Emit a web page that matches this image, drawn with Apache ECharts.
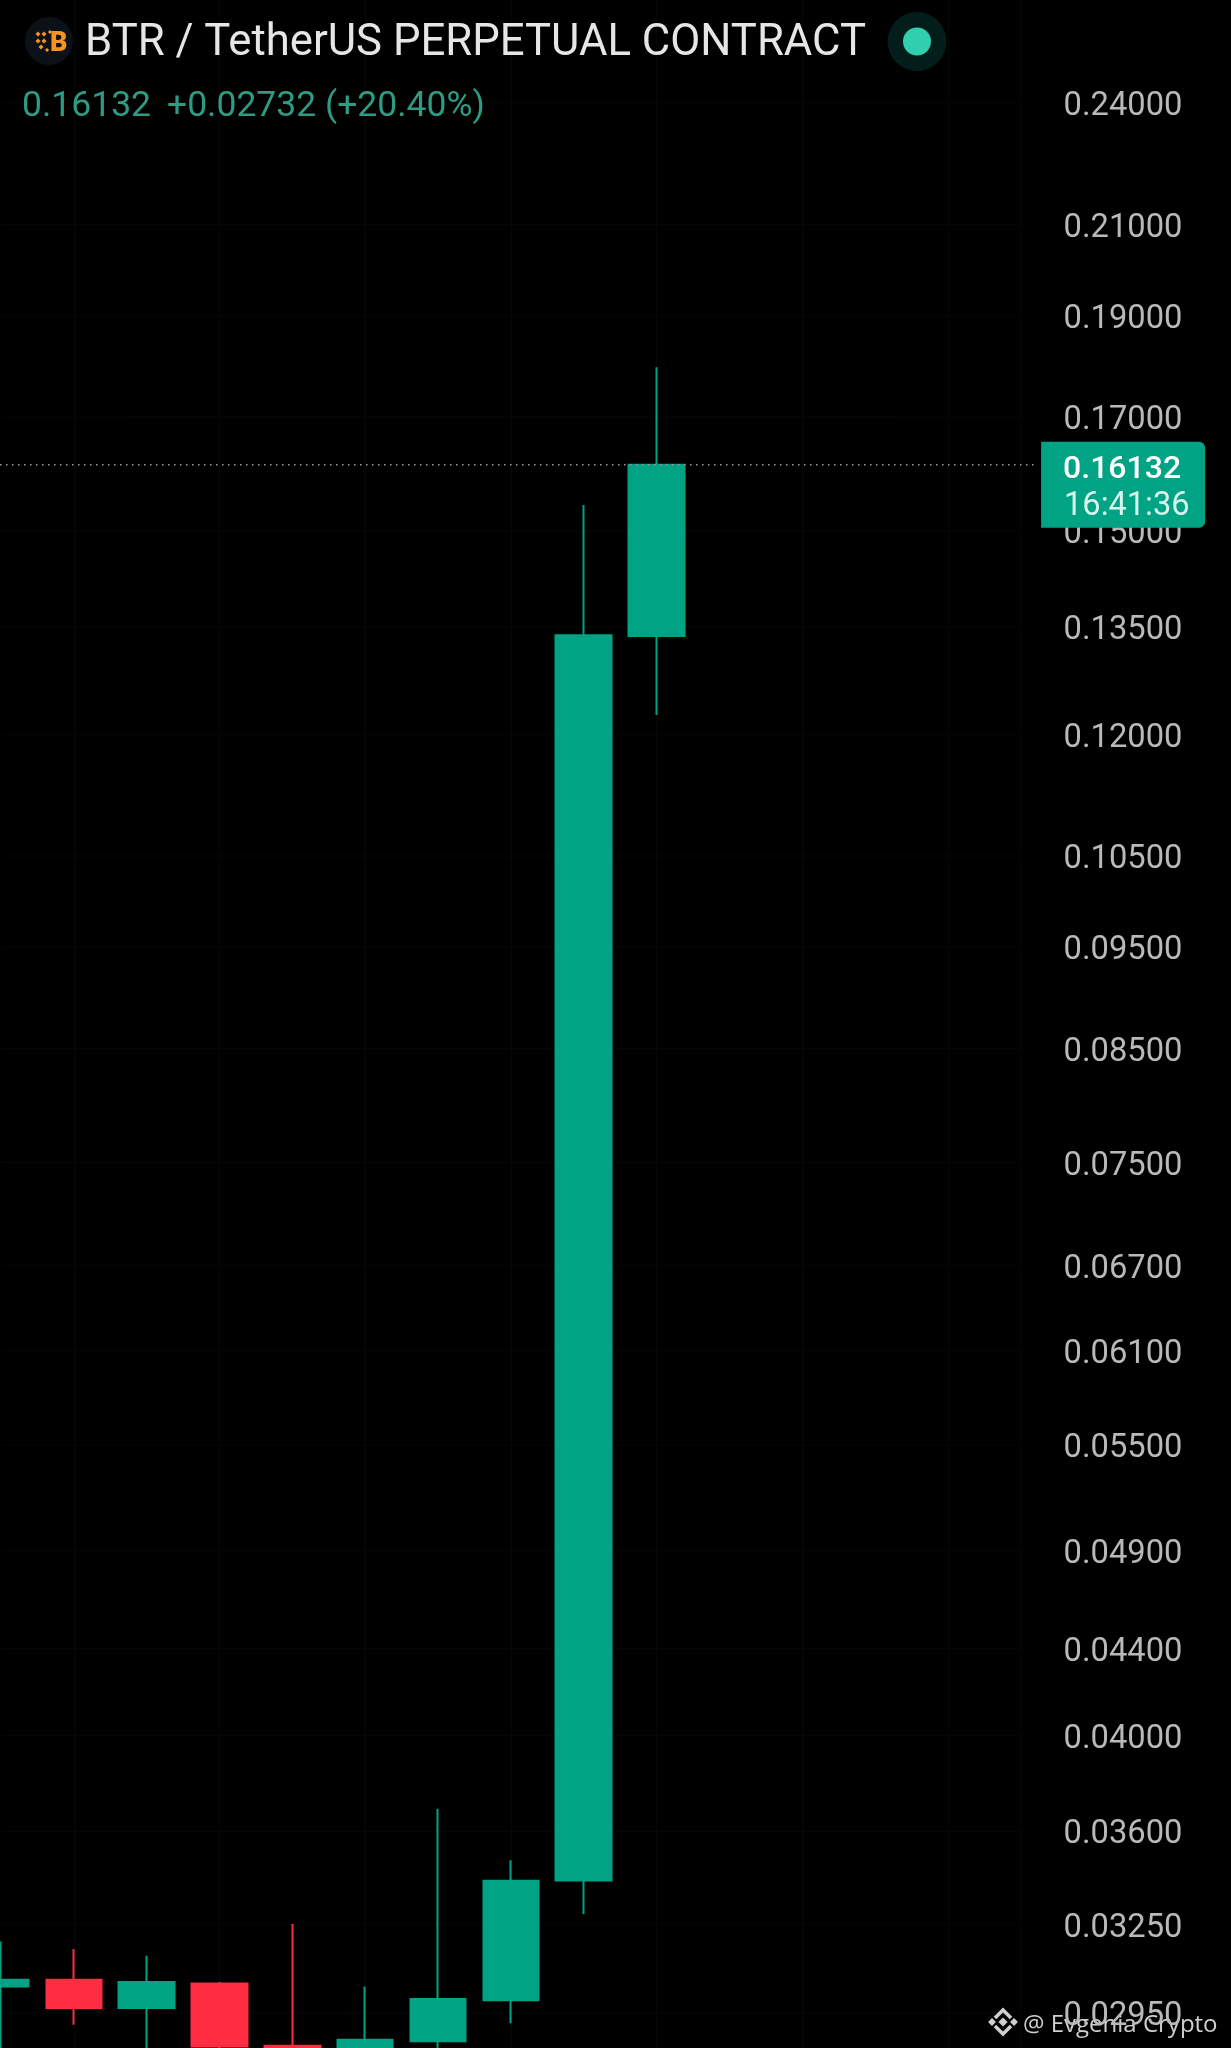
<!DOCTYPE html>
<html><head><meta charset="utf-8">
<style>html,body{margin:0;padding:0;background:#000}#c{width:1231px;height:2048px}</style>
<script src="https://cdn.jsdelivr.net/npm/echarts@6/dist/echarts.min.js"></script>
</head><body><div id="c"></div>
<script>
const categories = ['c0','c1','c2','c3','c4','c5','c6','c7','c8','c9','c10','c11','c12','c13','c14'];
const opens  = [0.03036,0.03059,0.02965,0.03046,0.02845,0.02756,0.02859,0.02991,0.03411,0.13370];
const closes = [0.03059,0.02965,0.03051,0.02843,0.02741,0.02864,0.02995,0.03410,0.13380,0.16132];
const lows   = [0.02800,0.02911,0.02800,0.02826,0.02700,0.02700,0.02817,0.02916,0.03288,0.12259];
const highs  = [0.03190,0.03164,0.03140,0.03051,0.03252,0.03036,0.03690,0.03487,0.15437,0.17958];
const priceTicks = [0.24,0.21,0.19,0.17,0.15,0.135,0.12,0.105,0.095,0.085,0.075,0.067,0.061,0.055,0.049,0.044,0.04,0.036,0.0325,0.0295];
const gridColumns = [1,3,5,7,9,11,13,14];
const lastPrice = 0.16132;
const lastCountdown = '16:41:36';
const titleText = 'BTR / TetherUS PERPETUAL CONTRACT';
const statPrice = '0.16132', statChange = '+0.02732', statPct = '(+20.40%)';
const watermark = '@ Evgenia Crypto';

const GREEN='#00a485', RED='#ff2d42', FONT='Roboto', GRIDC='rgba(255,255,255,0.028)', ORANGE='#f7931e', WM='#cfcfcf';
const chart = echarts.init(document.getElementById('c'),null,{renderer:'canvas'});
const candleData = opens.map((o,i)=>[o,closes[i],lows[i],highs[i]]);
const sq=(x,y,s,fill)=>({type:'rect',x:x,y:y,rotation:Math.PI/4,shape:{x:-s/2,y:-s/2,width:s,height:s},style:{fill:fill}});
const chev=(pts)=>({type:'polyline',shape:{points:pts},style:{stroke:WM,lineWidth:3.6,fill:null}});
chart.setOption({
  animation:false,
  backgroundColor:'#000',
  grid:{left:1,width:1019.6,top:0,height:2048,containLabel:false},
  xAxis:{type:'category',data:categories,boundaryGap:false,
    axisLine:{show:false},axisTick:{show:false},axisLabel:{show:false},
    splitLine:{show:true,interval:(i)=>gridColumns.includes(i),lineStyle:{color:GRIDC,width:1}}},
  yAxis:{type:'log',logBase:10,position:'right',min:0.02838,max:0.2687,
    axisLine:{show:false},axisTick:{show:false},splitLine:{show:false},
    axisLabel:{customValues:priceTicks,margin:43,color:'#b9b9b9',fontFamily:FONT,fontSize:32.7,
      verticalAlign:'top',lineHeight:8,
      formatter:(v)=>Number(v).toFixed(5)}},
  series:[
   {type:'custom',coordinateSystem:'cartesian2d',clip:false,z:0,silent:true,
    data:priceTicks.map(v=>[0,v]),
    renderItem:(p,api)=>{
      const a=api.coord([0,api.value(1)]), b=api.coord([14,api.value(1)]);
      return {type:'line',shape:{x1:a[0],y1:a[1],x2:b[0],y2:b[1]},style:{stroke:GRIDC,lineWidth:1}};
    }},
   {type:'candlestick',data:candleData,barWidth:56,clip:false,z:2,
    itemStyle:{color:GREEN,color0:RED,borderColor:GREEN,borderColor0:RED,borderWidth:2}},
   {type:'custom',coordinateSystem:'cartesian2d',clip:false,z:10,silent:true,
    data:[[14,lastPrice]],
    renderItem:(p,api)=>{
      const c=api.coord([14,lastPrice]);
      const ty=c[1];
      return {type:'group',children:[
        {type:'line',shape:{x1:0,y1:ty,x2:c[0]+13,y2:ty},style:{stroke:'#9a9a9a',lineWidth:1.5,lineDash:[1.5,4.5]}},
        {type:'rect',shape:{x:c[0]+20.5,y:ty-23,width:164,height:86,r:[0,6,6,0]},style:{fill:GREEN}},
        {type:'text',x:c[0]+42.5,y:ty+5.5,style:{text:lastPrice.toFixed(5),fill:'#fff',font:'500 32px Roboto',verticalAlign:'middle'}},
        {type:'text',x:c[0]+43.5,y:ty+42.5,style:{text:lastCountdown,fill:'#d8f5ed',font:'400 32.5px Roboto',verticalAlign:'middle'}}
      ]};
    }}
  ],
  graphic:{elements:[
    {type:'circle',shape:{cx:49,cy:41,r:24},style:{fill:'#0c1117'}},
    {type:'text',x:50,y:44,style:{text:'B',fill:ORANGE,font:'900 27px Roboto',verticalAlign:'middle'}},
    sq(38,34,3.5,ORANGE),sq(44,34,3.5,ORANGE),sq(50,32,3,ORANGE),sq(38,41,3.5,ORANGE),sq(44,41,3.5,ORANGE),sq(41,47,3.5,ORANGE),sq(47,50,3,ORANGE),
    {type:'text',x:85,y:44,style:{text:titleText,fill:'#e6e6e6',font:'400 43.7px Roboto',verticalAlign:'middle'}},
    {type:'circle',shape:{cx:917,cy:41.5,r:29.5},style:{fill:'#031e1a'}},
    {type:'circle',shape:{cx:917,cy:41.5,r:14},style:{fill:'#2fcfb0'}},
    {type:'text',x:22,y:107,style:{text:statPrice,fill:'#2e9b83',font:'400 35.5px Roboto',verticalAlign:'middle'}},
    {type:'text',x:167,y:107,style:{text:statChange,fill:'#2e9b83',font:'400 35.5px Roboto',verticalAlign:'middle'}},
    {type:'text',x:325,y:107,style:{text:statPct,fill:'#2e9b83',font:'400 35.5px Roboto',verticalAlign:'middle'}},
    chev([[995,2018],[1003,2010],[1011,2018]]),chev([[995,2026],[1003,2034],[1011,2026]]),
    sq(992,2022,5.5,WM),sq(1014,2022,5.5,WM),sq(1003,2022,6.5,WM),
    {type:'text',x:1023,y:2025,style:{text:watermark,fill:WM,font:'400 24px "Open Sans"',verticalAlign:'middle'}}
  ]}
});
</script></body></html>
